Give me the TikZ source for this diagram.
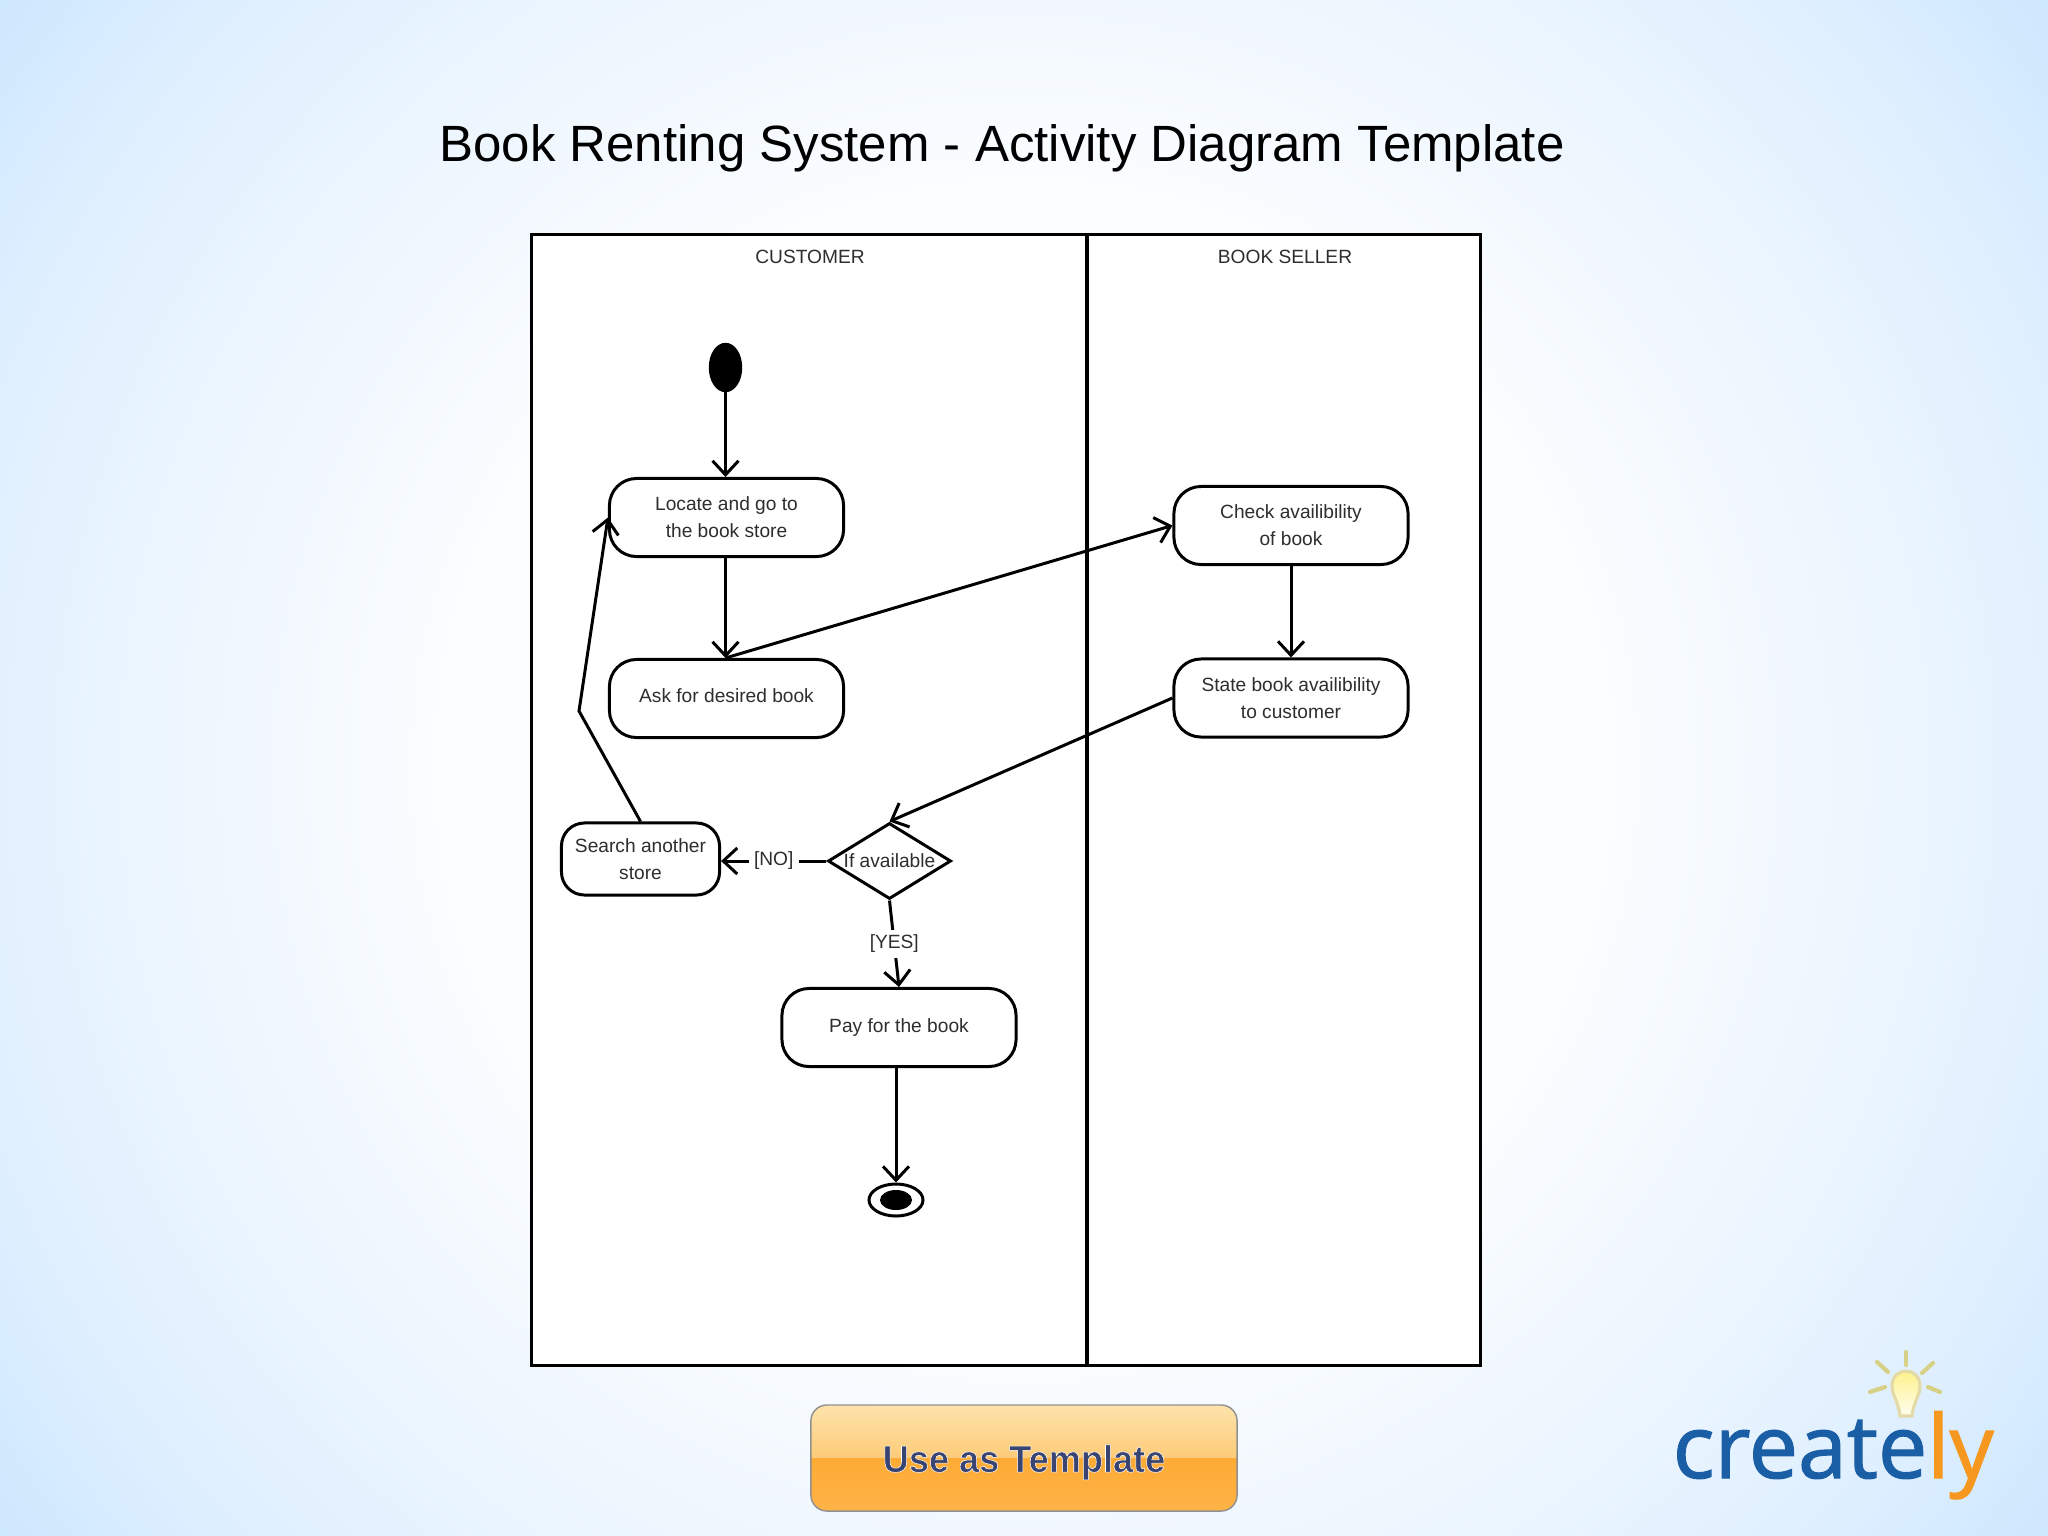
\documentclass[tikz,border=0pt]{standalone}
\usepackage{fontspec}
\setmainfont{Liberation Sans}
\newfontfamily\logofont[FakeBold=1.4]{Open Sans}
\newfontfamily\btnfont[FakeStretch=0.96]{Liberation Sans}
\usetikzlibrary{arrows.meta,shapes.geometric}
\definecolor{ink}{HTML}{2E2E2E}
\definecolor{logoblue}{HTML}{1A5EA6}
\definecolor{logoorange}{HTML}{F6981F}
\definecolor{btntext}{HTML}{3A4470}
\definecolor{btntop}{HTML}{FDE3AC}
\definecolor{btnmid}{HTML}{FDCB78}
\definecolor{btnlow}{HTML}{FDAB35}
\definecolor{btnbot}{HTML}{FFB347}
\definecolor{btnline}{HTML}{909090}
\definecolor{bulbray}{HTML}{D6D186}
\definecolor{bulbline}{HTML}{E4DAA8}
\definecolor{bulbtop}{HTML}{FDF28C}
\definecolor{bulbbot}{HTML}{FFFDF0}
\pgfdeclareradialshading{pagebg}{\pgfpoint{0bp}{0bp}}{%
  rgb(0bp)=(1,1,1);
  rgb(11.3bp)=(0.985,0.992,1);
  rgb(15.7bp)=(0.94,0.97,0.997);
  rgb(21bp)=(0.88,0.941,1);
  rgb(26.5bp)=(0.78,0.895,0.995);
  rgb(50bp)=(0.74,0.87,0.99)}
\newcommand{\difont}{\fontsize{5.45pt}{7.7pt}\selectfont}
\tikzset{
  x=0.01cm,y=-0.01cm,
  lane/.style={draw=black,line width=0.9pt,fill=white,rectangle,inner sep=0pt,outer sep=0pt},
  act/.style={draw=black,line width=0.85pt,fill=white,rectangle,rounded corners=2.7mm,
    minimum width=23.4mm,minimum height=7.8mm,inner sep=0pt,align=center,text=ink,font=\difont},
  flow/.style={draw=black,line width=0.85pt,-{Straight Barb[length=1.4mm,width=2.6mm,line width=0.85pt]}},
  guard/.style={fill=white,inner sep=1.5pt,text=ink,font=\difont},
  lanehead/.style={text=ink,font=\difont,inner sep=0pt},
  ray/.style={draw=bulbray,line width=1.2pt,line cap=round},
}
\begin{document}
\begin{tikzpicture}
\useasboundingbox (0,0) rectangle (2048,1536);
\begin{scope}
  \clip (0,0) rectangle (2048,1536);
  \shade[shading=pagebg] (-256,-512) rectangle (2304,2048);
\end{scope}

\node[font=\fontsize{14.5pt}{16pt}\selectfont,text=black,inner sep=0pt] (title) at (1002,148) {Book Renting System - Activity Diagram Template};

% swimlanes
\node[lane,minimum width=5.55cm,minimum height=11.3cm] (laneA) at (809.5,800) {};
\node[lane,minimum width=3.93cm,minimum height=11.3cm] (laneB) at (1283.5,800) {};
\draw[black,line width=1.15pt] (laneA.north east) -- (laneA.south east);
\node[lanehead] (custh) at (810,256.5) {CUSTOMER};
\node[lanehead] (sellh) at (1285,256.5) {BOOK SELLER};

% nodes
\node[fill=black,draw=black,ellipse,minimum width=3.2mm,minimum height=4.8mm,inner sep=0pt] (start) at (725.5,367.5) {};
\node[act] (locate) at (726.5,517.5) {Locate and go to\\the book store};
\node[act] (ask) at (726.5,698.5) {\raisebox{1.4pt}{Ask for desired book}};
\node[act] (check) at (1291,525.5) {Check availibility\\of book};
\node[act] (state) at (1291,698) {State book availibility\\to customer};
\node[act,minimum width=15.8mm,minimum height=7.2mm,rounded corners=2.3mm] (search) at (640.5,859) {Search another\\store};
\node[draw=black,line width=0.85pt,fill=white,diamond,aspect=1.6,minimum width=12.3mm,minimum height=7.6mm,inner sep=0pt,text=ink,font=\difont] (avail) at (889.5,861) {If available};
\node[act] (pay) at (899,1027.5) {Pay for the book};
\node[draw=black,line width=0.85pt,fill=white,ellipse,minimum width=5.4mm,minimum height=3.2mm,inner sep=0pt] (finish) at (896,1200) {};
\fill[black] (finish.center) ellipse [x radius=16,y radius=10];

% connectors
\coordinate (elbow) at (579,711);
\draw[flow] (start) -- (start |- locate.north);
\draw[flow] (locate.south -| start) -- (ask.north -| start);
\draw[flow] (ask.north -| start) -- (check.west);
\draw[flow] (check) -- (state);
\draw[flow] (state.west) -- (avail.north);
\draw[flow] (avail.west) -- node[guard,pos=0.5] (no) {[NO]} (avail.west -| search.east);
\draw[flow] (avail.south) -- node[guard,pos=0.5] (yes) {[YES]} (pay.north);
\draw[flow] (pay.south -| finish) -- (finish.north);
\draw[flow] (search.north) -- (elbow) -- (locate.west);

% button
\begin{scope}
  \clip[rounded corners=1.6mm] (811,1405) rectangle (1237,1511);
  \shade[top color=btntop,bottom color=btnmid] (811,1405) rectangle (1237,1458);
  \shade[top color=btnlow,bottom color=btnbot] (811,1458) rectangle (1237,1511);
\end{scope}
\node[draw=btnline,line width=0.4pt,rectangle,rounded corners=1.6mm,minimum width=4.26cm,minimum height=1.06cm,inner sep=0pt,text=btntext,font=\btnfont\fontsize{10.7pt}{12pt}\selectfont\bfseries] (use) at (1024,1458) {\raisebox{-4pt}[2pt][2pt]{\special{pdf:code q 1 1 1 RG 0.15 w 2 Tr}Use as Template\special{pdf:code 0 Tr Q}}};

% logo
\foreach \a/\b/\c/\d in {1906/1352/1906/1365, 1877/1362/1888/1372, 1933/1363/1922/1373, 1870/1392/1885/1387, 1940/1392/1928/1387}
  \draw[ray] (\a,\b) -- (\c,\d);
\draw[draw=bulbline,line width=0.9pt,top color=bulbtop,bottom color=bulbbot]
  (1900,1416) .. controls (1898,1400) and (1892,1396) .. (1892,1386)
  .. controls (1892,1376) and (1899,1371) .. (1906,1371)
  .. controls (1913,1371) and (1920,1376) .. (1920,1386)
  .. controls (1920,1396) and (1914,1400) .. (1912,1416) -- cycle;
\node[font=\logofont\fontsize{25pt}{28pt}\selectfont,inner sep=0pt,anchor=base west,text=logoblue] (logo) at (1672,1478) {create\textcolor{logoorange}{ly}};
\end{tikzpicture}
\end{document}
